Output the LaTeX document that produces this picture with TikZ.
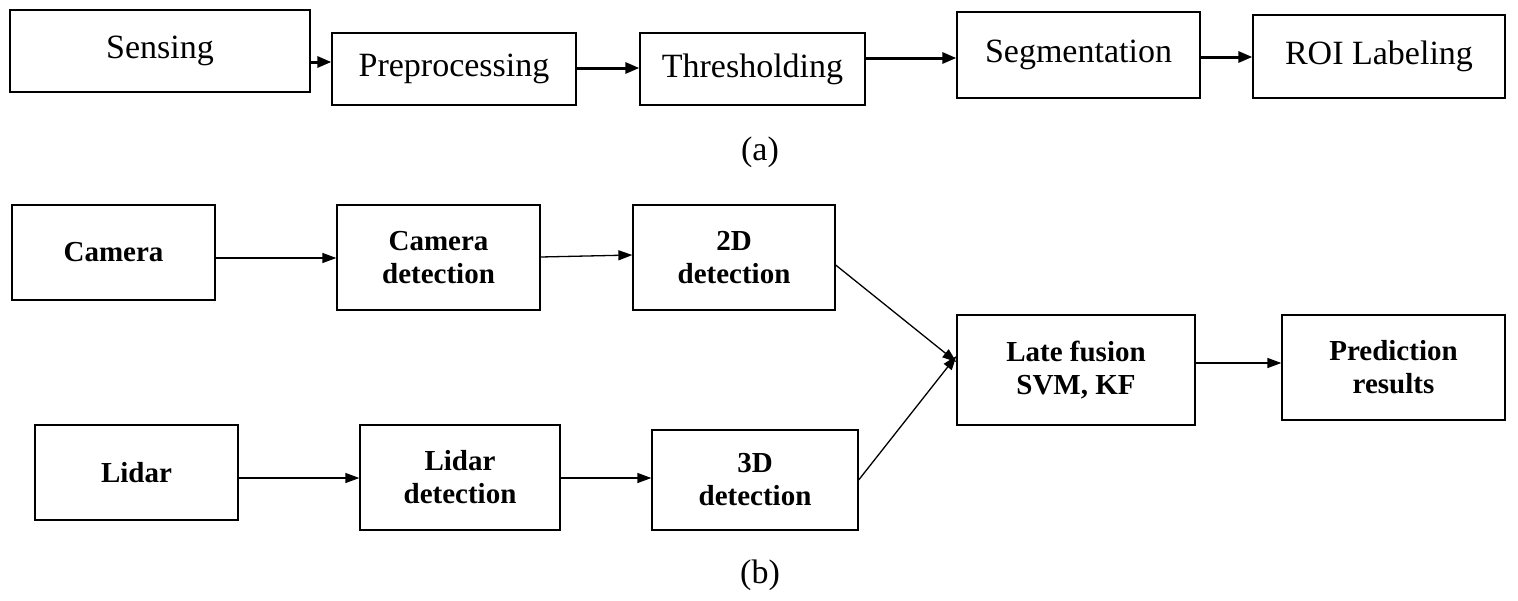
\documentclass[tikz,border=0pt]{standalone}
\usepackage{fontspec}
\setmainfont{Liberation Serif}
\usetikzlibrary{arrows.meta}
\begin{document}
\begin{tikzpicture}[x=1pt,y=-1pt,
 ba/.style={draw,line width=1.3pt,inner sep=0pt,font=\fontsize{34}{38}\selectfont},
 bb/.style={draw,line width=1.3pt,inner sep=0pt,align=center,font=\fontsize{29}{33}\selectfont\bfseries},
 aa/.style={-{Triangle[length=14pt,width=11pt]},line width=3pt},
 ab/.style={-{Triangle[length=14pt,width=10pt]},line width=1.3pt},
 lab/.style={font=\fontsize{34}{38}\selectfont}]
\useasboundingbox (0,0) rectangle (1518,600);
\def\bx#1#2#3#4#5#6#7{\node[#2,minimum width=#5-#3,minimum height=#6-#4] (#1) at ({(#3+#5)/2},{(#4+#6)/2}) {#7};}
\bx{s}{ba}{10}{10}{310}{92}{Sensing}
\bx{p}{ba}{332}{33}{576}{105}{Preprocessing}
\bx{t}{ba}{640}{33}{865}{105}{Thresholding}
\bx{g}{ba}{957}{12}{1200}{98}{Segmentation}
\bx{r}{ba}{1253}{15}{1505}{98}{ROI Labeling}
\draw[aa] (s.east|-0,62) -- (p.west|-0,62);
\draw[aa] (p.east|-0,68) -- (t.west|-0,68);
\draw[aa] (t.east|-0,58) -- (g.west|-0,58);
\draw[aa] (g.east|-0,57) -- (r.west|-0,57);
\node[lab] (la) at (760,152) {(a)};
\bx{c}{bb}{12}{205}{215}{300}{Camera}
\bx{cd}{bb}{337}{205}{540}{310}{Camera\\detection}
\bx{d2}{bb}{633}{205}{835}{310}{2D\\detection}
\bx{lf}{bb}{957}{315}{1195}{425}{Late fusion\\SVM, KF}
\bx{pr}{bb}{1282}{315}{1505}{420}{Prediction\\results}
\bx{l}{bb}{35}{425}{238}{520}{Lidar}
\bx{ld}{bb}{360}{425}{560}{530}{Lidar\\detection}
\bx{d3}{bb}{652}{430}{858}{530}{3D\\detection}
\draw[ab] (c.east|-0,258) -- (cd.west|-0,258);
\draw[ab] (cd.east|-0,257) -- (d2.west|-0,255);
\draw[ab] (d2.east|-0,265) -- (lf.west|-0,362);
\draw[ab] (d3.east|-0,480) -- (lf.west|-0,356);
\draw[ab] (lf.east|-0,363) -- (pr.west|-0,363);
\draw[ab] (l.east|-0,478) -- (ld.west|-0,478);
\draw[ab] (ld.east|-0,478) -- (d3.west|-0,478);
\node[lab] (lb) at (760,575) {(b)};
\end{tikzpicture}
\end{document}
